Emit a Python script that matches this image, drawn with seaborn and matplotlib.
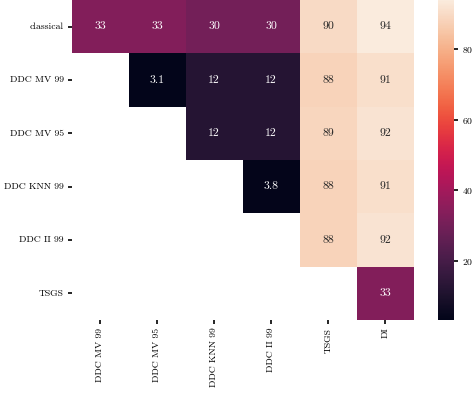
import numpy as np
import pandas as pd
import matplotlib
matplotlib.use("Agg")
import matplotlib.pyplot as plt
import seaborn as sns

rows = ["classical", "DDC MV 99", "DDC MV 95", "DDC KNN 99", "DDC II 99", "TSGS"]
cols = ["DDC MV 99", "DDC MV 95", "DDC KNN 99", "DDC II 99", "TSGS", "DI"]
r_classical = [33, 33, 30, 30, 90, 94]
r_mv99 = [np.nan, 3.1, 12, 12, 88, 91]
r_mv95 = [np.nan, np.nan, 12, 12, 89, 92]
r_knn99 = [np.nan, np.nan, np.nan, 3.8, 88, 91]
r_ii99 = [np.nan, np.nan, np.nan, np.nan, 88, 92]
r_tsgs = [np.nan, np.nan, np.nan, np.nan, np.nan, 33]

df = pd.DataFrame([r_classical, r_mv99, r_mv95, r_knn99, r_ii99, r_tsgs],
                  index=rows, columns=cols)

plt.rcParams["font.family"] = ["cmr10", "DejaVu Serif"]
plt.rcParams["axes.formatter.use_mathtext"] = True

W, H = 474, 393
fig = plt.figure(figsize=(W / 100, H / 100), dpi=100)
ax = fig.add_axes([71.5 / W, (H - 320) / H, (414 - 71.5) / W, 320 / H])
cax = fig.add_axes([438 / W, (H - 320) / H, 16 / W, 320 / H])

sns.heatmap(df, ax=ax, cbar_ax=cax, cmap="rocket", annot=True,
            annot_kws={"fontsize": 8.5})
ax.tick_params(axis="both", labelsize=7, length=3, width=1.2, pad=2.5)
ax.set_xticklabels(ax.get_xticklabels(), rotation=90)
ax.set_yticklabels(ax.get_yticklabels(), rotation=0)
cax.tick_params(labelsize=7, length=3, width=1.2, pad=2.5)
cax.set_yticks([20, 40, 60, 80])

fig.savefig("out.png", dpi=100)
